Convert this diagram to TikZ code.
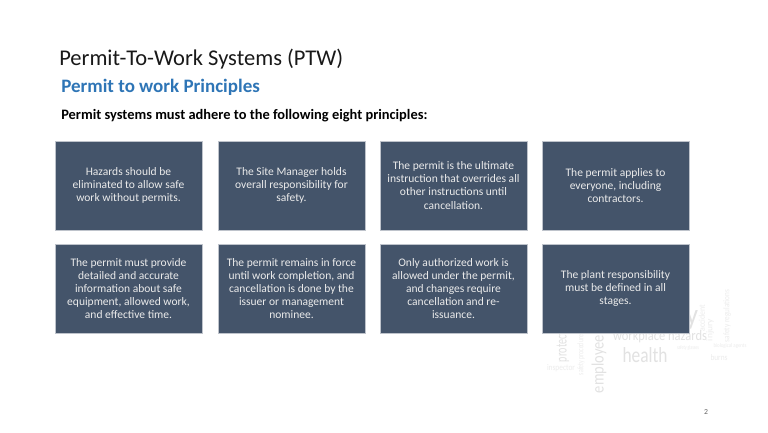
\documentclass[tikz,border=0pt]{standalone}
\usepackage{fontspec}
\setmainfont{Carlito}
\usepackage{graphicx}
\usepackage{xcolor}
\definecolor{boxblue}{HTML}{44546A}
\definecolor{headblue}{HTML}{2E75B6}
\definecolor{cloudgrey}{HTML}{E2E2E2}
\definecolor{cloudpale}{HTML}{ECECEC}
\newlength{\pxlen}
\setlength{\pxlen}{0.025cm}
\newcommand{\pxu}{*0.025cm}
\newcommand{\cloudword}[3]{\resizebox{#1\pxlen}{#2\pxlen}{#3}}
\tikzset{
  principle/.style={fill=boxblue,draw=boxblue!35,line width=0.3pt,minimum width=147\pxu,minimum height=89\pxu,
    inner sep=0pt,align=center,text=white!92!black,font=\fontsize{8.2}{9.3}\selectfont},
  cloud/.style={text=cloudgrey,inner sep=0pt},
  cloudsmall/.style={text=cloudpale,inner sep=0pt},
}
\begin{document}
\begin{tikzpicture}[x=0.025cm,y=-0.025cm]
  \useasboundingbox[fill=white] (0,0) rectangle (768,433);
  % word cloud behind the boxes
  \node[cloud] (wHazards) at (660,337) {\cloudword{94}{10}{workplace hazards}};
  \node[cloud] (wHealth) at (645,355) {\cloudword{45}{15}{health}};
  \node[cloud,rotate=90] (wEmployee) at (599,364) {\cloudword{58}{12}{employee}};
  \node[cloud,rotate=90] (wProtect) at (563,347) {\cloudword{30}{10}{protect}};
  \node[cloudsmall,rotate=90] (wProcedure) at (581,355) {\cloudword{40}{6}{safety procedure}};
  \node[cloudsmall] (wInspector) at (561,368) {\cloudword{28}{6}{inspector}};
  \node[cloud] (wY) at (692,320) {\cloudword{12}{14}{y}};
  \node[cloudsmall,rotate=90] (wAccident) at (702,318) {\cloudword{27}{6}{accident}};
  \node[cloudsmall,rotate=90] (wInjury) at (710,330) {\cloudword{22}{6}{injury}};
  \node[cloudsmall,rotate=90] (wRegs) at (727,316) {\cloudword{52}{6}{safety regulations}};
  \node[cloudsmall] (wGlasses) at (688,348) {\cloudword{22}{4}{safety glasses}};
  \node[cloudsmall] (wAgents) at (730,346) {\cloudword{33}{4}{biological agents}};
  \node[cloudsmall] (wBurns) at (719,358) {\cloudword{17}{6}{burns}};
  % headings
  \node[anchor=base west,inner sep=0pt,font=\fontsize{16}{18}\selectfont,text=black!90] (title) at (59,65) {Permit-To-Work Systems (PTW)};
  \node[anchor=base west,inner sep=0pt,font=\fontsize{13.5}{15}\selectfont\bfseries,text=headblue] (subtitle) at (61,92) {Permit to work Principles};
  \node[anchor=base west,inner sep=0pt,font=\fontsize{10.25}{12}\selectfont\bfseries,text=black] (intro) at (61,119) {Permit systems must adhere to the following eight principles:};
  % top row
  \node[principle] (pOne) at (128.5,185.5) {Hazards should be\\eliminated to allow safe\\work without permits.};
  \node[principle] (pTwo) at (291.5,185.5) {The Site Manager holds\\overall responsibility for\\safety.};
  \node[principle] (pThree) at (453.5,185.5) {The permit is the ultimate\\instruction that overrides all\\other instructions until\\cancellation.};
  \node[principle] (pFour) at (615.5,185.5) {The permit applies to\\everyone, including\\contractors.};
  % bottom row
  \node[principle] (pFive) at (128.5,288.5) {The permit must provide\\detailed and accurate\\information about safe\\equipment, allowed work,\\and effective time.};
  \node[principle] (pSix) at (291.5,288.5) {The permit remains in force\\until work completion, and\\cancellation is done by the\\issuer or management\\nominee.};
  \node[principle] (pSeven) at (453.5,288.5) {Only authorized work is\\allowed under the permit,\\and changes require\\cancellation and re-\\issuance.};
  \node[principle] (pEight) at (615.5,288.5) {The plant responsibility\\must be defined in all\\stages.};
  % page number
  \node[inner sep=0pt,font=\fontsize{5.5}{6}\selectfont,text=black!60] (pageno) at (706,412) {2};
\end{tikzpicture}
\end{document}
